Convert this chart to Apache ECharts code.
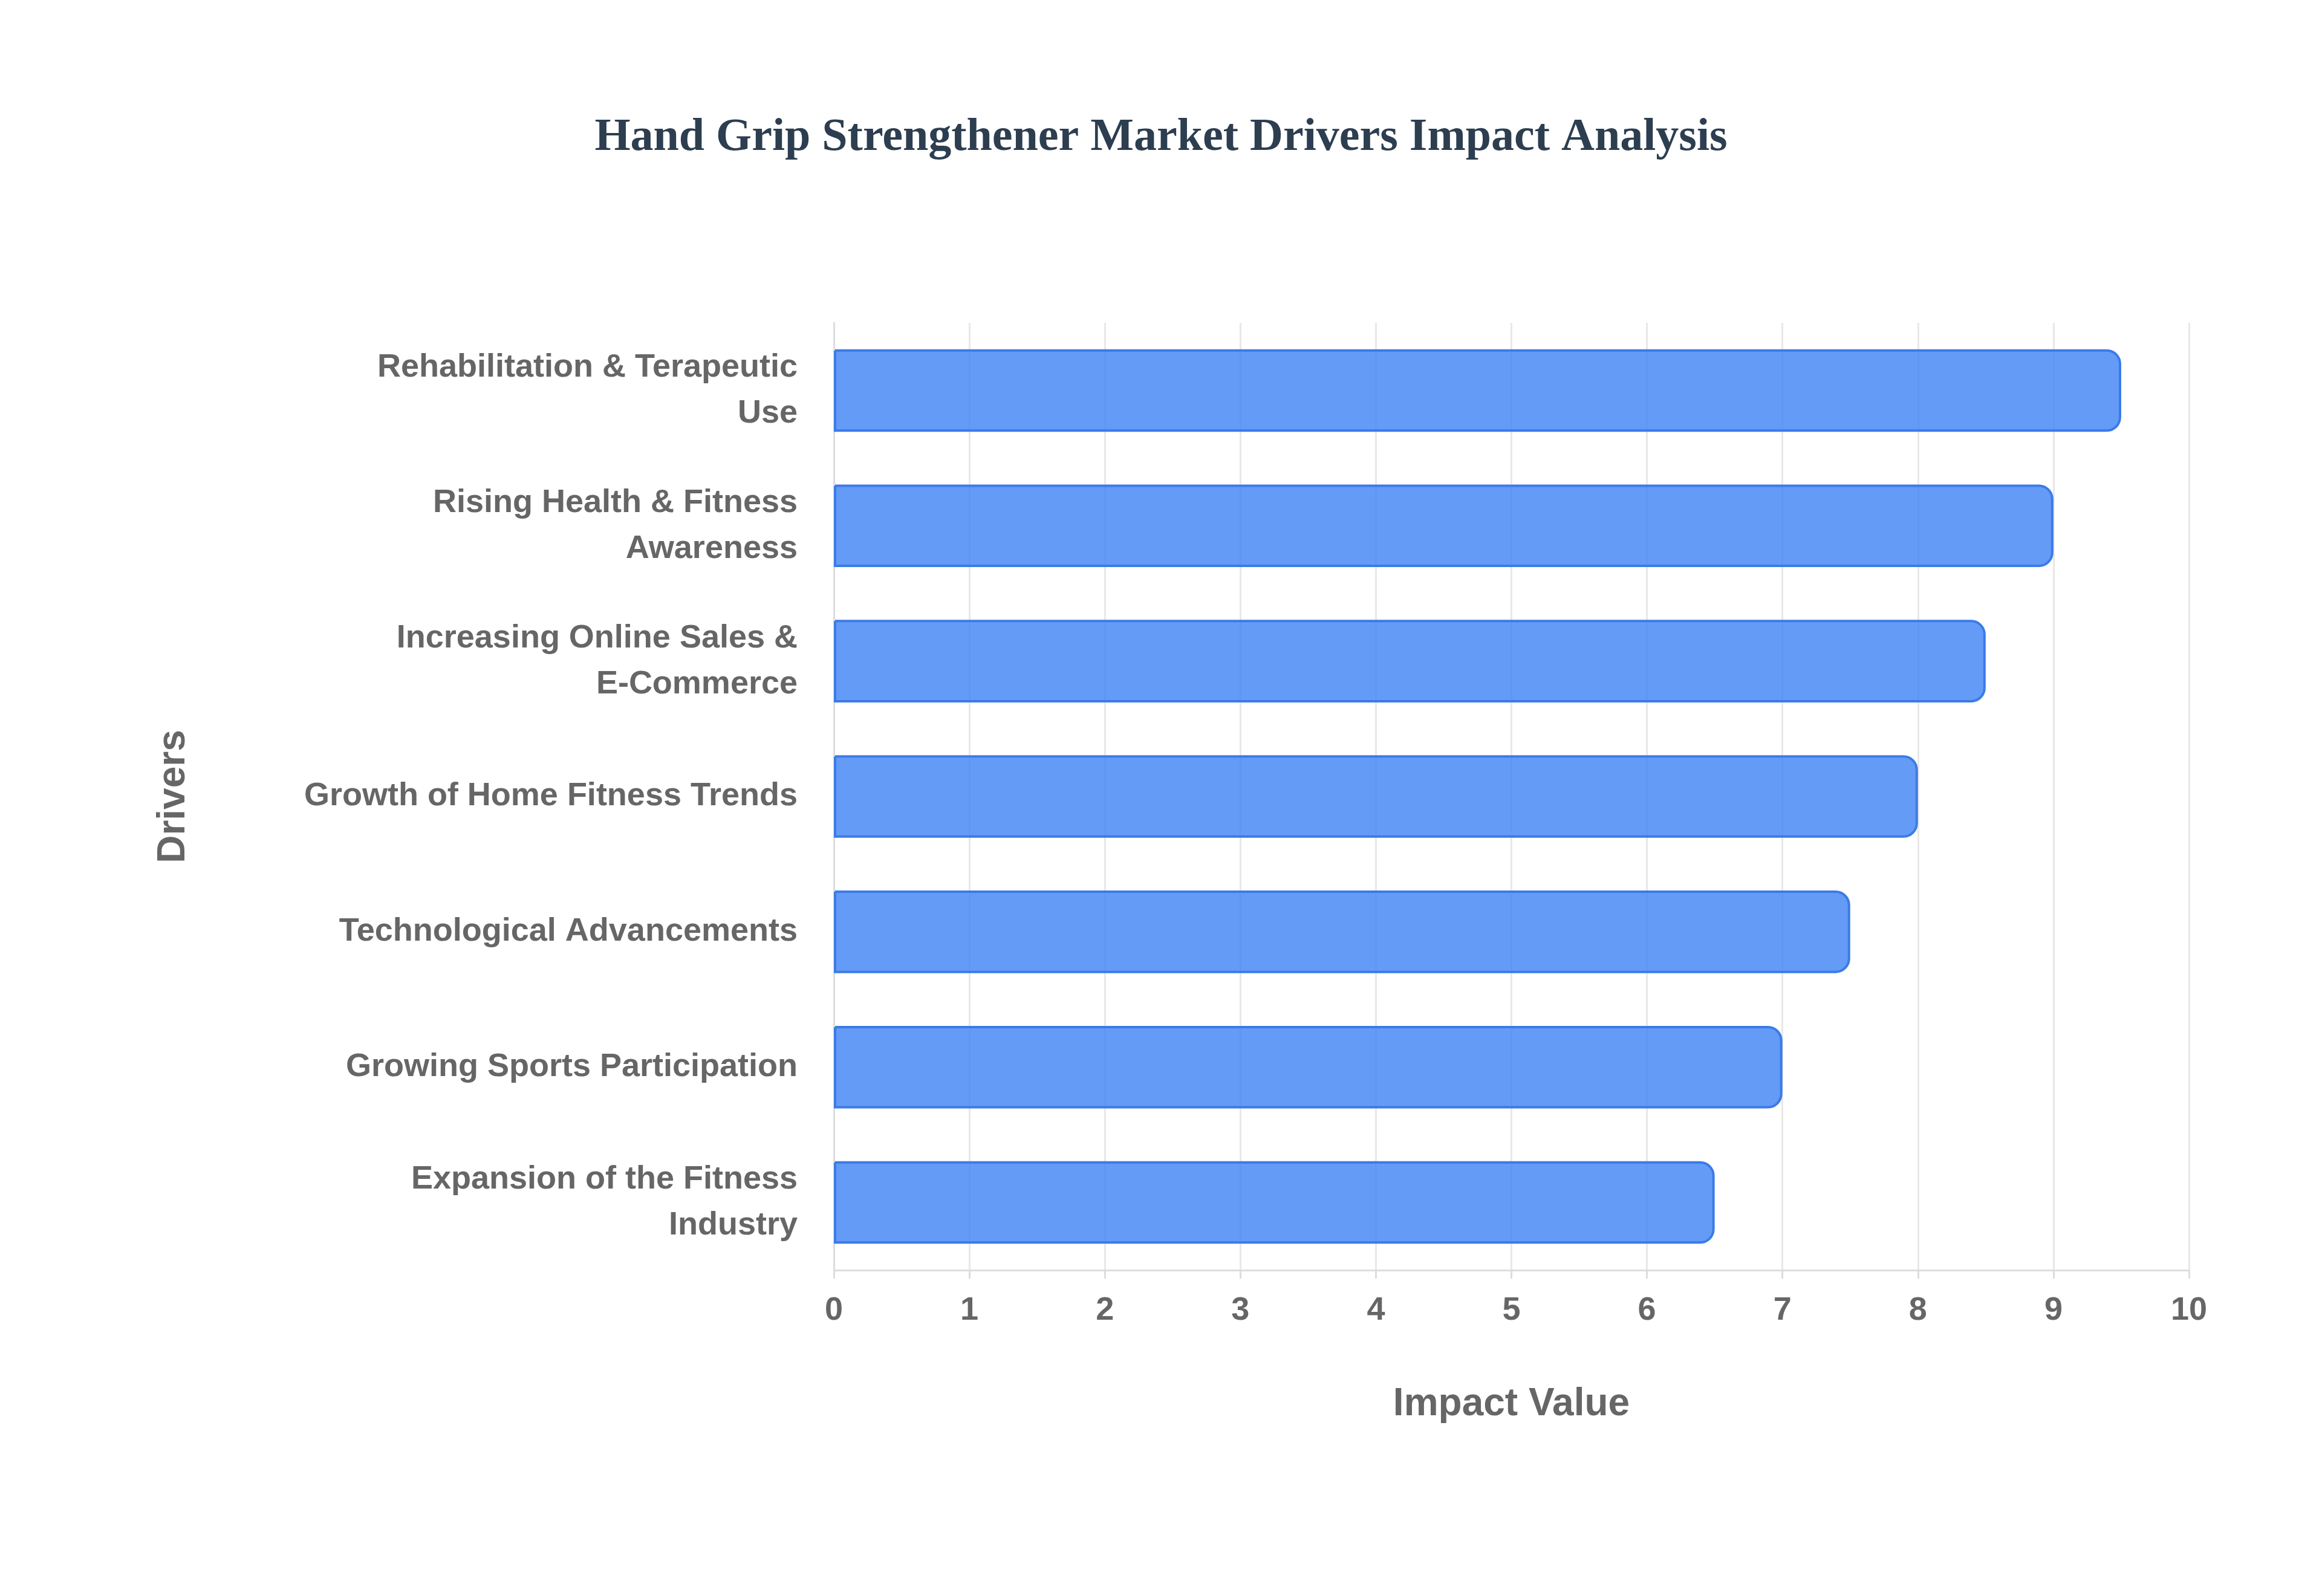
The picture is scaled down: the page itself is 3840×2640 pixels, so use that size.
<!DOCTYPE html>
<html><head><meta charset="utf-8">
<script src="https://cdn.jsdelivr.net/npm/echarts@6/dist/echarts.min.js"></script>
<style>html,body{margin:0;padding:0;background:#fff}#c{width:3840px;height:2640px}</style>
</head><body><div id="c"></div>
<script>
const categories = ["Rehabilitation & Terapeutic\nUse","Rising Health & Fitness\nAwareness","Increasing Online Sales &\nE-Commerce","Growth of Home Fitness Trends","Technological Advancements","Growing Sports Participation","Expansion of the Fitness\nIndustry"];
const values = [9.5, 9, 8.5, 8, 7.5, 7, 6.5];
const chart = echarts.init(document.getElementById('c'));
const lab = {fontFamily:'Liberation Sans, Arial', fontWeight:'bold', color:'#666', fontSize:54};
chart.setOption({
  title:{text:'Hand Grip Strengthener Market Drivers Impact Analysis', left:'center', top:185,
    textStyle:{fontFamily:'Liberation Serif, Times New Roman', fontWeight:'bold', fontSize:76, color:'#2c3e50'}},
  grid:{left:1379, right:220, top:534, bottom:539},
  xAxis:{type:'value', min:0, max:10, interval:1, name:'Impact Value', nameLocation:'middle', nameGap:190,
    nameTextStyle:Object.assign({}, lab, {fontSize:64}),
    axisLabel:Object.assign({margin:40}, lab),
    axisLine:{show:true, lineStyle:{color:'#ddd', width:3}}, axisTick:{show:true, length:14, lineStyle:{color:'#ddd', width:3}},
    splitLine:{lineStyle:{color:'#e8e8e8', width:3}}},
  yAxis:{type:'category', data:categories, inverse:true, name:'Drivers', nameLocation:'middle', nameGap:1060,
    nameTextStyle:Object.assign({}, lab, {fontSize:64}),
    axisLabel:Object.assign({margin:60, lineHeight:76, align:'right'}, lab),
    axisLine:{show:true, lineStyle:{color:'#ddd', width:3}}, axisTick:{show:false}},
  series:[{type:'bar', data:values, barWidth:'61%',
    itemStyle:{color:'rgba(66,133,244,0.82)', borderColor:'#3b7be8', borderWidth:4, borderRadius:[0,22,22,0]}}]
});
</script></body></html>
